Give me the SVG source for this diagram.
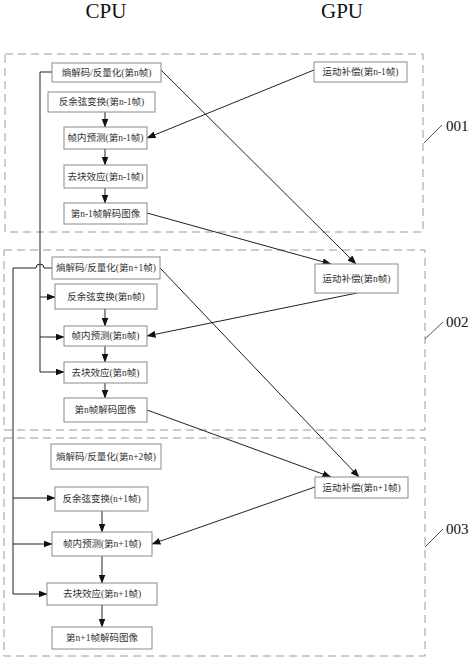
<svg xmlns="http://www.w3.org/2000/svg" width="474" height="661" viewBox="0 0 474 661">
<defs>
<marker id="ah" markerWidth="9" markerHeight="7" refX="8.5" refY="3.5" orient="auto" markerUnits="userSpaceOnUse">
<path d="M0,0 L9,3.5 L0,7 Z" fill="#111"/>
</marker>
<style>
.box rect{fill:#fff;stroke:#8a8a8a;stroke-width:1}
.box text{font-family:"Liberation Serif","Noto Sans CJK SC",serif;font-size:9.5px;fill:#333;text-anchor:middle;dominant-baseline:central}
.region{fill:none;stroke:#9a9a9a;stroke-width:1;stroke-dasharray:8,5}
.hdr{font-family:"Liberation Serif",serif;font-size:21px;fill:#111;text-anchor:middle}
.lbl{font-family:"Liberation Serif",serif;font-size:15px;fill:#111}
.leader{stroke:#555;stroke-width:1;fill:none}
#connectors path,#connectors line{stroke:#222;stroke-width:1;fill:none}
.arr{marker-end:url(#ah)}
</style>
</defs>
<rect width="474" height="661" fill="#fff"/>
<text class="hdr" x="106" y="18">CPU</text>
<text class="hdr" x="342" y="18">GPU</text>

<g id="regions">
<rect class="region" x="5" y="54" width="418" height="178"/>
<rect class="region" x="4" y="250" width="421" height="180"/>
<rect class="region" x="4" y="438" width="421" height="218"/>
<line class="leader" x1="424" y1="143" x2="442" y2="125"/>
<text class="lbl" x="446" y="131">001</text>
<line class="leader" x1="425" y1="339" x2="443" y2="322"/>
<text class="lbl" x="446" y="327">002</text>
<line class="leader" x1="425" y1="547" x2="443" y2="529"/>
<text class="lbl" x="446" y="534">003</text>
</g>

<g id="connectors">
<!-- region 1 -->
<line class="arr" x1="105" y1="112" x2="105" y2="127"/>
<line class="arr" x1="105" y1="149" x2="105" y2="165"/>
<line class="arr" x1="105" y1="188" x2="105" y2="203"/>
<line class="arr" x1="314" y1="70" x2="147" y2="138"/>
<line class="arr" x1="161" y1="70" x2="356" y2="264"/>
<line class="arr" x1="147" y1="213" x2="331" y2="264"/>
<!-- CPU feed frame n -->
<path d="M52,72 H40 V372"/>
<line class="arr" x1="40" y1="297" x2="55" y2="297"/>
<line class="arr" x1="40" y1="337" x2="64" y2="337"/>
<line class="arr" x1="40" y1="372" x2="64" y2="372"/>
<!-- region 2 -->
<line class="arr" x1="105" y1="309" x2="105" y2="326"/>
<line class="arr" x1="105" y1="346" x2="105" y2="362"/>
<line class="arr" x1="105" y1="383" x2="105" y2="398"/>
<line class="arr" x1="357" y1="293" x2="147" y2="336"/>
<line class="arr" x1="160" y1="268" x2="359" y2="477"/>
<line class="arr" x1="147" y1="410" x2="331" y2="477"/>
<!-- CPU feed frame n+1 with hop -->
<path d="M52,268 H44 A4,4 0 0 0 36,268 H13 V594"/>
<line class="arr" x1="13" y1="498" x2="55" y2="498"/>
<line class="arr" x1="13" y1="544" x2="52" y2="544"/>
<line class="arr" x1="13" y1="594" x2="47" y2="594"/>
<!-- region 3 -->
<line class="arr" x1="102" y1="511" x2="102" y2="532"/>
<line class="arr" x1="102" y1="556" x2="102" y2="583"/>
<line class="arr" x1="102" y1="605" x2="102" y2="627"/>
<line class="arr" x1="315" y1="487" x2="152" y2="544"/>
</g>

<g id="n1" class="box"><rect x="52" y="63" width="109" height="19"/><text x="106.5" y="72.5">熵解码/反量化(第n帧)</text></g>
<g id="n2" class="box"><rect x="48" y="92" width="107" height="20"/><text x="101.5" y="102">反余弦变换(第n-1帧)</text></g>
<g id="n3" class="box"><rect x="64" y="127" width="83" height="22"/><text x="105.5" y="138">帧内预测(第n-1帧)</text></g>
<g id="n4" class="box"><rect x="64" y="165" width="83" height="23"/><text x="105.5" y="176.5">去块效应(第n-1帧)</text></g>
<g id="n5" class="box"><rect x="64" y="203" width="83" height="21"/><text x="105.5" y="213.5">第n-1帧解码图像</text></g>
<g id="g1" class="box"><rect x="314" y="62" width="93" height="20"/><text x="360.5" y="72">运动补偿(第n-1帧)</text></g>

<g id="m1" class="box"><rect x="52" y="257" width="108" height="22"/><text x="106" y="268">熵解码/反量化(第n+1帧)</text></g>
<g id="m2" class="box"><rect x="55" y="284" width="102" height="25"/><text x="106" y="296.5">反余弦变换(第n帧)</text></g>
<g id="m3" class="box"><rect x="64" y="326" width="83" height="20"/><text x="105.5" y="336">帧内预测(第n帧)</text></g>
<g id="m4" class="box"><rect x="64" y="362" width="83" height="21"/><text x="105.5" y="372.5">去块效应(第n帧)</text></g>
<g id="m5" class="box"><rect x="64" y="398" width="83" height="24"/><text x="105.5" y="410">第n帧解码图像</text></g>
<g id="g2" class="box"><rect x="315" y="264" width="83" height="29"/><text x="356.5" y="278.5">运动补偿(第n帧)</text></g>

<g id="k1" class="box"><rect x="51" y="444" width="110" height="25"/><text x="106" y="456.5">熵解码/反量化(第n+2帧)</text></g>
<g id="k2" class="box"><rect x="55" y="487" width="93" height="24"/><text x="101.5" y="499">反余弦变换(n+1帧)</text></g>
<g id="k3" class="box"><rect x="52" y="532" width="100" height="24"/><text x="102" y="544">帧内预测(第n+1帧)</text></g>
<g id="k4" class="box"><rect x="47" y="583" width="110" height="22"/><text x="102" y="594">去块效应(第n+1帧)</text></g>
<g id="k5" class="box"><rect x="52" y="627" width="100" height="22"/><text x="102" y="638">第n+1帧解码图像</text></g>
<g id="g3" class="box"><rect x="315" y="477" width="93" height="21"/><text x="361.5" y="487.5">运动补偿(第n+1帧)</text></g>
</svg>
